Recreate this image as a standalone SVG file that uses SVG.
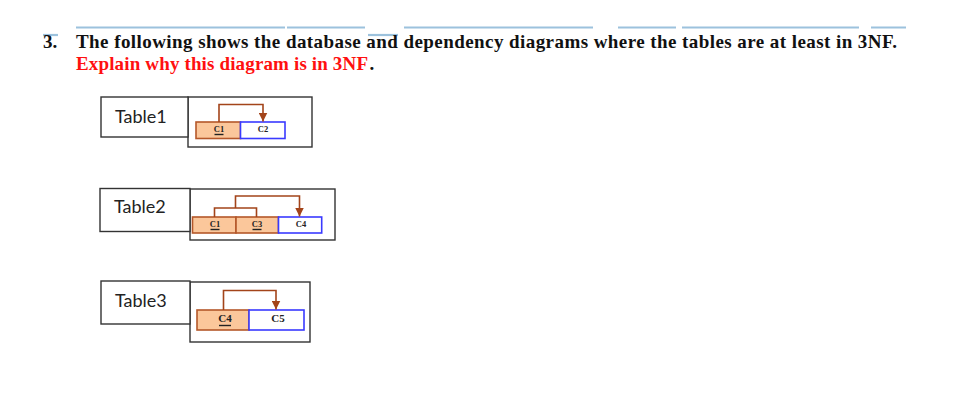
<svg xmlns="http://www.w3.org/2000/svg" width="962" height="406" viewBox="0 0 962 406">
<defs>
<marker id="down" markerUnits="userSpaceOnUse" markerWidth="9" markerHeight="9" viewBox="0 0 9 9" refX="4.5" refY="9">
<path d="M0,0 L9,0 L4.5,9 Z" fill="#a3441a"/>
</marker>
<style>
.hdr{font-family:"Liberation Serif","Times New Roman",serif;font-weight:bold;font-size:19px;fill:#111}
.red{fill:#ff1010}
.ov{stroke:#9cc2dd;stroke-width:2.2;fill:none}
.lbl{fill:#fff;stroke:#333;stroke-width:1.4}
.lt{font-family:Lato,"Liberation Sans",sans-serif;font-size:18px;fill:#222}
.key{fill:#fbc79b;stroke:#b5582a;stroke-width:1.6}
.att{fill:#fff;stroke:#3a3aff;stroke-width:1.6}
.ct{font-family:"Liberation Serif","Times New Roman",serif;font-weight:bold;font-size:8.5px;fill:#222;text-anchor:middle}
.ct3{font-size:11px}
.ul{stroke:#222;stroke-width:1.4}
.con{fill:none;stroke:#a3441a;stroke-width:1.6}
</style>
</defs>
<rect width="962" height="406" fill="#fff"/>
<g id="header">
<line class="ov" x1="76" y1="27.5" x2="285" y2="27.5"/>
<line class="ov" x1="287" y1="27.5" x2="365" y2="27.5"/>
<line class="ov" x1="368" y1="35" x2="398" y2="35"/>
<line class="ov" x1="404" y1="27.5" x2="593" y2="27.5"/>
<line class="ov" x1="618" y1="27.5" x2="676" y2="27.5"/>
<line class="ov" x1="682" y1="27.5" x2="859" y2="27.5"/>
<line class="ov" x1="871" y1="27.5" x2="906" y2="27.5"/>
<line class="ov" x1="43" y1="35" x2="58" y2="35"/>
<text class="hdr" x="43" y="48.3">3.</text>
<text class="hdr" x="76" y="48.3" textLength="821" lengthAdjust="spacing">The following shows the database and dependency diagrams where the tables are at least in 3NF.</text>
<text class="hdr red" x="76" y="70" textLength="292" lengthAdjust="spacing">Explain why this diagram is in 3NF</text>
<text class="hdr" x="369.5" y="70">.</text>
</g>
<g id="table1">
<rect class="lbl" x="188" y="97" width="124" height="50"/>
<rect class="lbl" x="101" y="97" width="87" height="40"/>
<text class="lt" x="115" y="123">Table1</text>
<rect class="key" x="196" y="122" width="44.5" height="16.5"/>
<rect class="att" x="240.5" y="122" width="44.5" height="16.5"/>
<text class="ct" x="219" y="132">C1</text>
<line class="ul" x1="214.5" y1="134.5" x2="223.5" y2="134.5"/>
<text class="ct" x="263" y="132">C2</text>
</g>
<g id="table2">
<rect class="lbl" x="190" y="189" width="145" height="51"/>
<rect class="lbl" x="100" y="188.5" width="90" height="43"/>
<text class="lt" x="114" y="213">Table2</text>
<rect class="key" x="192.5" y="217" width="43.5" height="16"/>
<rect class="key" x="236" y="217" width="42.5" height="16"/>
<rect class="att" x="278.5" y="217" width="43.2" height="16"/>
<text class="ct" x="215" y="227">C1</text>
<line class="ul" x1="210.5" y1="229.5" x2="219.5" y2="229.5"/>
<text class="ct" x="257" y="227">C3</text>
<line class="ul" x1="252.5" y1="229.5" x2="261.5" y2="229.5"/>
<text class="ct" x="301" y="227">C4</text>
</g>
<g id="table3">
<rect class="lbl" x="190" y="282" width="120" height="60"/>
<rect class="lbl" x="101" y="281" width="89" height="43"/>
<text class="lt" x="115" y="306.5">Table3</text>
<rect class="key" x="197" y="310" width="52" height="20"/>
<rect class="att" x="249" y="310" width="55" height="20"/>
<text class="ct ct3" x="225" y="322">C4</text>
<line class="ul" x1="219" y1="325.5" x2="231" y2="325.5"/>
<text class="ct ct3" x="278" y="322">C5</text>
</g>
<g id="connectors">
<path class="con" d="M219,122 V104.5 H263 V121.5" marker-end="url(#down)"/>
<path class="con" d="M214.5,217 V208 H256.5 V217"/>
<path class="con" d="M235.5,208 V196 H299.5 V216.5" marker-end="url(#down)"/>
<path class="con" d="M223.5,310 V290.5 H276 V309.5" marker-end="url(#down)"/>
</g>
</svg>
